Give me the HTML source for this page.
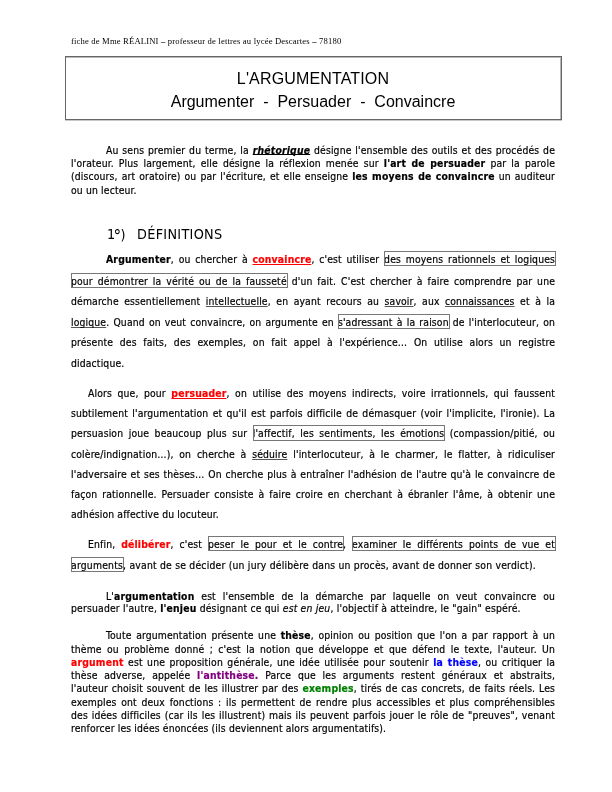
<!DOCTYPE html>
<html><head><meta charset="utf-8">
<style>
html,body{margin:0;padding:0;background:#fff;}
body{width:612px;height:792px;position:relative;overflow:hidden;color:#000;}
.pg{position:absolute;left:0;top:0;width:612px;height:792px;will-change:transform;}
.hdr{position:absolute;left:71px;top:35.8px;font-family:"Liberation Serif",serif;font-size:8.6px;line-height:11px;white-space:pre;letter-spacing:0.17px;}
.box{position:absolute;left:65px;top:56px;width:495px;height:62px;border:1px solid #666;box-shadow:inset 0 1px 0 #b8b8b8,inset -1px 0 0 #b8b8b8,0 1px 0 #c8c8c8;}
.t{position:absolute;left:65px;width:496px;text-align:center;font-family:"Liberation Sans",sans-serif;font-size:16px;line-height:18px;white-space:pre;}
.l{position:absolute;left:71px;width:484px;font-family:"DejaVu Sans Condensed","DejaVu Sans",sans-serif;font-size:10.3px;line-height:13px;height:13px;white-space:nowrap;text-align:justify;text-align-last:justify;letter-spacing:0.15px;}
.l.e{text-align-last:left;}
.l{-webkit-text-stroke-width:0.2px;}
.l span.w{}
.h{position:absolute;left:107px;font-family:"DejaVu Sans Condensed","DejaVu Sans",sans-serif;font-size:14.3px;line-height:16px;white-space:pre;}
.bx{position:relative;}
.bx::after{content:"";position:absolute;left:0;right:-1px;top:-1.7px;bottom:-1.8px;border:1px solid #777;}
.u{text-decoration:underline;text-decoration-thickness:1px;text-underline-offset:1px;text-decoration-skip-ink:none;}
.r{color:#f00;font-weight:bold;}
.g{text-decoration-color:#555;}
.bl{color:#00f;font-weight:bold;}
.pu{color:#800080;font-weight:bold;}
.gr{color:#008000;font-weight:bold;}
b,.r,.bl,.pu,.gr{font-weight:bold;letter-spacing:0.2px;}
</style></head><body><div class="pg">
<div class="hdr">fiche de Mme RÉALINI <b>–</b> professeur de lettres au lycée Descartes <b>–</b> 78180</div>
<div class="box"></div>
<div class="t" style="top:70px;letter-spacing:0.15px">L'ARGUMENTATION</div>
<div class="t" style="top:93px">Argumenter  -  Persuader  -  Convaincre</div>

<div class="l" style="top:143.6px;padding-left:35px;width:449px">Au sens premier du terme, la <b><i class="u" style="text-underline-offset:0;text-decoration-thickness:1.4px">rhétorique</i></b> désigne l'ensemble des outils et des procédés de</div>
<div class="l" style="top:156.6px">l'orateur. Plus largement, elle désigne la réflexion menée sur <b>l'art de persuader</b> par la parole</div>
<div class="l" style="top:170.2px">(discours, art oratoire) ou par l'écriture, et elle enseigne <b>les moyens de convaincre</b> un auditeur</div>
<div class="l e" style="top:183.6px">ou un lecteur.</div>

<div class="h" style="top:226px">1</div><div class="h" style="top:226px;left:113.6px;font-size:17px;line-height:16px;"><span style="position:relative;top:2.4px">°</span></div><div class="h" style="top:226.5px;left:120.6px">)</div><div class="h" style="top:226px;left:137px;letter-spacing:0.3px">DÉFINITIONS</div>

<div class="l" style="top:252.7px;padding-left:35px;width:449px"><b>Argumenter</b>, ou chercher à <span class="r u">convaincre</span>, c'est utiliser <span class="bx">des moyens rationnels et logiques</span></div>
<div class="l" style="top:274.5px"><span class="bx">pour démontrer la vérité ou de la fausseté</span> d'un fait. C'est chercher à faire comprendre par une</div>
<div class="l" style="top:295.3px">démarche essentiellement <span class="u g">intellectuelle</span>, en ayant recours au <span class="u g">savoir</span>, aux <span class="u g">connaissances</span> et à la</div>
<div class="l" style="top:315.5px"><span class="u g">logique</span>. Quand on veut convaincre, on argumente en <span class="bx">s'adressant à la raison</span> de l'interlocuteur, on</div>
<div class="l" style="top:336px">présente des faits, des exemples, on fait appel à l'expérience… On utilise alors un registre</div>
<div class="l e" style="top:356.5px">didactique.</div>

<div class="l" style="top:387px;padding-left:17px;width:467px">Alors que, pour <span class="r u">persuader</span>, on utilise des moyens indirects, voire irrationnels, qui faussent</div>
<div class="l" style="top:406.5px">subtilement l'argumentation et qu'il est parfois difficile de démasquer (voir l'implicite, l'ironie). La</div>
<div class="l" style="top:427px">persuasion joue beaucoup plus sur <span class="bx">l'affectif, les sentiments, les émotions</span> (compassion/pitié, ou</div>
<div class="l" style="top:447.6px">colère/indignation…), on cherche à <span class="u g">séduire</span> l'interlocuteur, à le charmer, le flatter, à ridiculiser</div>
<div class="l" style="top:467.8px">l'adversaire et ses thèses… On cherche plus à entraîner l'adhésion de l'autre qu'à le convaincre de</div>
<div class="l" style="top:488px">façon rationnelle. Persuader consiste à faire croire en cherchant à ébranler l'âme, à obtenir une</div>
<div class="l e" style="top:507.5px">adhésion affective du locuteur.</div>

<div class="l" style="top:537.6px;padding-left:17px;width:467px">Enfin, <span class="r">délibérer</span>, c'est <span class="bx">peser le pour et le contre</span>, <span class="bx">examiner le différents points de vue et</span></div>
<div class="l e" style="top:558.7px;letter-spacing:0.22px"><span class="bx">arguments</span>, avant de se décider (un jury délibère dans un procès, avant de donner son verdict).</div>

<div class="l" style="top:590px;padding-left:35px;width:449px">L'<b>argumentation</b> est l'ensemble de la démarche par laquelle on veut convaincre ou</div>
<div class="l e" style="top:601.7px;letter-spacing:0.19px">persuader l'autre, <b>l'enjeu</b> désignant ce qui <i>est en jeu</i>, l'objectif à atteindre, le "gain" espéré.</div>

<div class="l" style="top:628.6px;padding-left:35px;width:449px">Toute argumentation présente une <b>thèse</b>, opinion ou position que l'on a par rapport à un</div>
<div class="l" style="top:642.5px">thème ou problème donné ; c'est la notion que développe et que défend le texte, l'auteur. Un</div>
<div class="l" style="top:655.5px"><span class="r">argument</span> est une proposition générale, une idée utilisée pour soutenir <span class="bl">la thèse</span>, ou critiquer la</div>
<div class="l" style="top:668.9px">thèse adverse, appelée <span class="pu">l'antithèse.</span> Parce que les arguments restent généraux et abstraits,</div>
<div class="l" style="top:682px">l'auteur choisit souvent de les illustrer par des <span class="gr">exemples</span>, tirés de cas concrets, de faits réels. Les</div>
<div class="l" style="top:695.9px">exemples ont deux fonctions : ils permettent de rendre plus accessibles et plus compréhensibles</div>
<div class="l" style="top:709px">des idées difficiles (car ils les illustrent) mais ils peuvent parfois jouer le rôle de "preuves", venant</div>
<div class="l e" style="top:721.5px">renforcer les idées énoncées (ils deviennent alors argumentatifs).</div>
</div></body></html>
